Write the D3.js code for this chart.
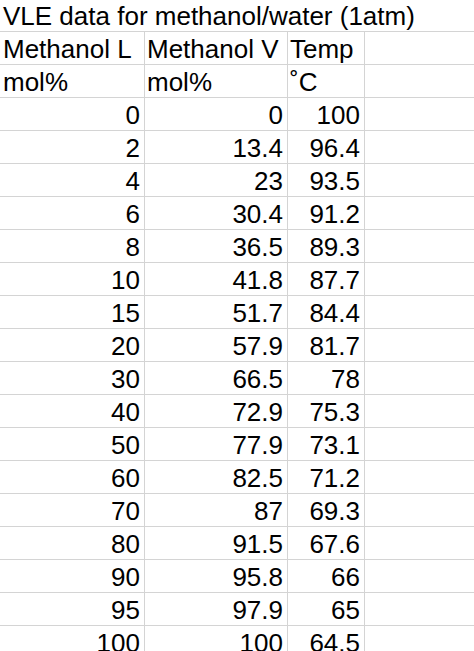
<!DOCTYPE html>
<html><head><meta charset="utf-8">
<script src="https://cdn.jsdelivr.net/npm/d3@7"></script>
<style>body{margin:0;background:#fff}</style></head>
<body><svg id="sheet" width="474" height="651"></svg>
<script>
var title = "VLE data for methanol/water (1atm)";
var headers = ["Methanol L", "Methanol V", "Temp"];
var units = ["mol%", "mol%", "\u02DAC"];
var methanolL = [0, 2, 4, 6, 8, 10, 15, 20, 30, 40, 50, 60, 70, 80, 90, 95, 100];
var methanolV = [0, 13.4, 23, 30.4, 36.5, 41.8, 51.7, 57.9, 66.5, 72.9, 77.9, 82.5, 87, 91.5, 95.8, 97.9, 100];
var temp = [100, 96.4, 93.5, 91.2, 89.3, 87.7, 84.4, 81.7, 78, 75.3, 73.1, 71.2, 69.3, 67.6, 66, 65, 64.5];

var svg = d3.select('#sheet');
var font = "'Liberation Sans', Arial, sans-serif";
var colEdges = [0, 144, 287, 364];
var nRows = 3 + methanolL.length;
var y = d3.scaleLinear().domain([0, 1, nRows]).range([-2, 31, 31 + 33 * (nRows - 1)]);

// grid
var g = svg.append('g').attr('stroke', '#d4d4d4').attr('stroke-width', 1);
d3.range(1, nRows + 1).forEach(function(r) {
	g.append('line').attr('x1', 0).attr('x2', 474).attr('y1', Math.round(y(r)) + 0.5).attr('y2', Math.round(y(r)) + 0.5);
});
colEdges.slice(1).forEach(function(x) {
	g.append('line').attr('x1', x + 0.5).attr('x2', x + 0.5).attr('y1', y(1)).attr('y2', 651);
});

function cell(r, text, x, anchor) {
	svg.append('text').attr('x', x).attr('y', y(r + 1) - 6)
		.attr('text-anchor', anchor).attr('font-family', font).attr('font-size', 26)
		.attr('fill', '#000').text(text);
}
cell(0, title, 3, 'start');
headers.forEach(function(h, i) { cell(1, h, colEdges[i] + 3, 'start'); });
units.forEach(function(h, i) { cell(2, h, colEdges[i] + 3, 'start'); });
var cols = [methanolL, methanolV, temp];
cols.forEach(function(arr, c) {
	arr.forEach(function(v, i) { cell(3 + i, v, colEdges[c + 1] - 4, 'end'); });
});
</script></body></html>
